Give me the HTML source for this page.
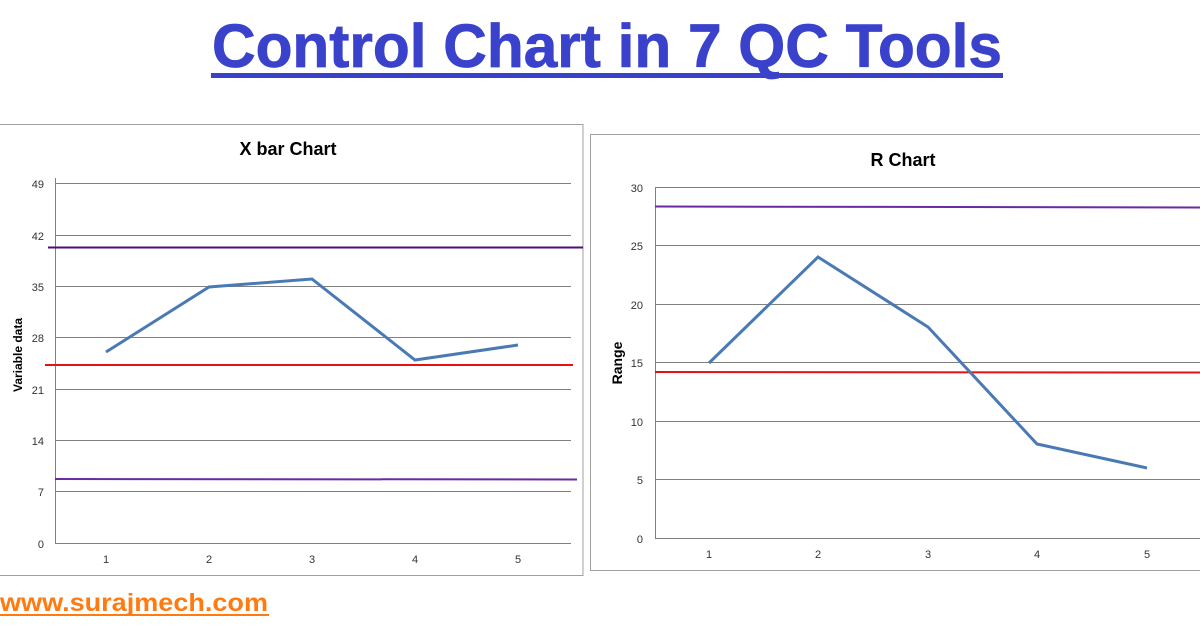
<!DOCTYPE html>
<html><head><meta charset="utf-8"><style>html,body{margin:0;padding:0;background:#fff}svg{display:block}</style></head>
<body>
<svg width="1200" height="630" viewBox="0 0 1200 630" xmlns="http://www.w3.org/2000/svg" font-family="Liberation Sans, sans-serif">
<rect width="1200" height="630" fill="#fff"/>
<text x="212" y="67" font-size="61" font-weight="bold" fill="#3a42cc" stroke="#3a42cc" stroke-width="0.8" textLength="790" lengthAdjust="spacingAndGlyphs">Control Chart in 7 QC Tools</text>
<rect x="211" y="73" width="792" height="5" fill="#3a42cc"/>

<!-- Left chart -->
<rect x="-1" y="124.5" width="584" height="451" fill="#fff" stroke="#a0a0a0"/>
<text x="288" y="155" font-size="18" font-weight="bold" text-anchor="middle" fill="#000">X bar Chart</text>
<g stroke="#808080" stroke-width="1">
<line x1="55" y1="183.5" x2="571" y2="183.5"/><line x1="55" y1="235.5" x2="571" y2="235.5"/>
<line x1="55" y1="286.5" x2="571" y2="286.5"/><line x1="55" y1="337.5" x2="571" y2="337.5"/>
<line x1="55" y1="389.5" x2="571" y2="389.5"/><line x1="55" y1="440.5" x2="571" y2="440.5"/>
<line x1="55" y1="491.5" x2="571" y2="491.5"/><line x1="55" y1="543.5" x2="571" y2="543.5"/>
<line x1="55.5" y1="178" x2="55.5" y2="543"/>
</g>
<g font-size="11" fill="#333" text-anchor="end">
<text x="44" y="188">49</text><text x="44" y="240">42</text><text x="44" y="291">35</text><text x="44" y="342">28</text>
<text x="44" y="394">21</text><text x="44" y="445">14</text><text x="44" y="496">7</text><text x="44" y="548">0</text>
</g>
<g font-size="11" fill="#333" text-anchor="middle">
<text x="106" y="563">1</text><text x="209" y="563">2</text><text x="312" y="563">3</text><text x="415" y="563">4</text><text x="518" y="563">5</text>
</g>
<text transform="translate(22,355) rotate(-90)" font-size="12" font-weight="bold" text-anchor="middle">Variable data</text>
<line x1="48" y1="247.5" x2="583" y2="247.5" stroke="#4b0f7a" stroke-width="2"/>
<line x1="45" y1="365" x2="573" y2="365" stroke="#e81010" stroke-width="2"/>
<line x1="55" y1="479" x2="577" y2="479.5" stroke="#6a2aa0" stroke-width="2"/>
<polyline points="106,352 209,287 312,279 415,360 518,345" fill="none" stroke="#4a7ab4" stroke-width="3"/>

<!-- Right chart -->
<rect x="590.5" y="134.5" width="620" height="436" fill="#fff" stroke="#a0a0a0"/>
<text x="903" y="166" font-size="18" font-weight="bold" text-anchor="middle" fill="#000">R Chart</text>
<g stroke="#808080" stroke-width="1">
<line x1="655" y1="187.5" x2="1200" y2="187.5"/><line x1="655" y1="245.5" x2="1200" y2="245.5"/>
<line x1="655" y1="304.5" x2="1200" y2="304.5"/><line x1="655" y1="362.5" x2="1200" y2="362.5"/>
<line x1="655" y1="421.5" x2="1200" y2="421.5"/><line x1="655" y1="479.5" x2="1200" y2="479.5"/>
<line x1="655" y1="538.5" x2="1200" y2="538.5"/>
<line x1="655.5" y1="187" x2="655.5" y2="538"/>
</g>
<g font-size="11" fill="#333" text-anchor="end">
<text x="643" y="192">30</text><text x="643" y="250">25</text><text x="643" y="309">20</text><text x="643" y="367">15</text>
<text x="643" y="426">10</text><text x="643" y="484">5</text><text x="643" y="543">0</text>
</g>
<g font-size="11" fill="#333" text-anchor="middle">
<text x="709" y="558">1</text><text x="818" y="558">2</text><text x="928" y="558">3</text><text x="1037" y="558">4</text><text x="1147" y="558">5</text>
</g>
<text transform="translate(622,363) rotate(-90)" font-size="14" font-weight="bold" text-anchor="middle">Range</text>
<line x1="655" y1="206.5" x2="1200" y2="207.5" stroke="#6a2aa0" stroke-width="2"/>
<line x1="655" y1="372" x2="1200" y2="372.5" stroke="#e81010" stroke-width="2"/>
<polyline points="709,363 818,257 928,327 1037,444 1147,468" fill="none" stroke="#4a7ab4" stroke-width="3"/>

<text x="0" y="611" font-size="25" font-weight="bold" fill="#ff7a10" textLength="268" lengthAdjust="spacingAndGlyphs">www.surajmech.com</text>
<rect x="0" y="614" width="269" height="2" fill="#ff7a10"/>
</svg>
</body></html>
